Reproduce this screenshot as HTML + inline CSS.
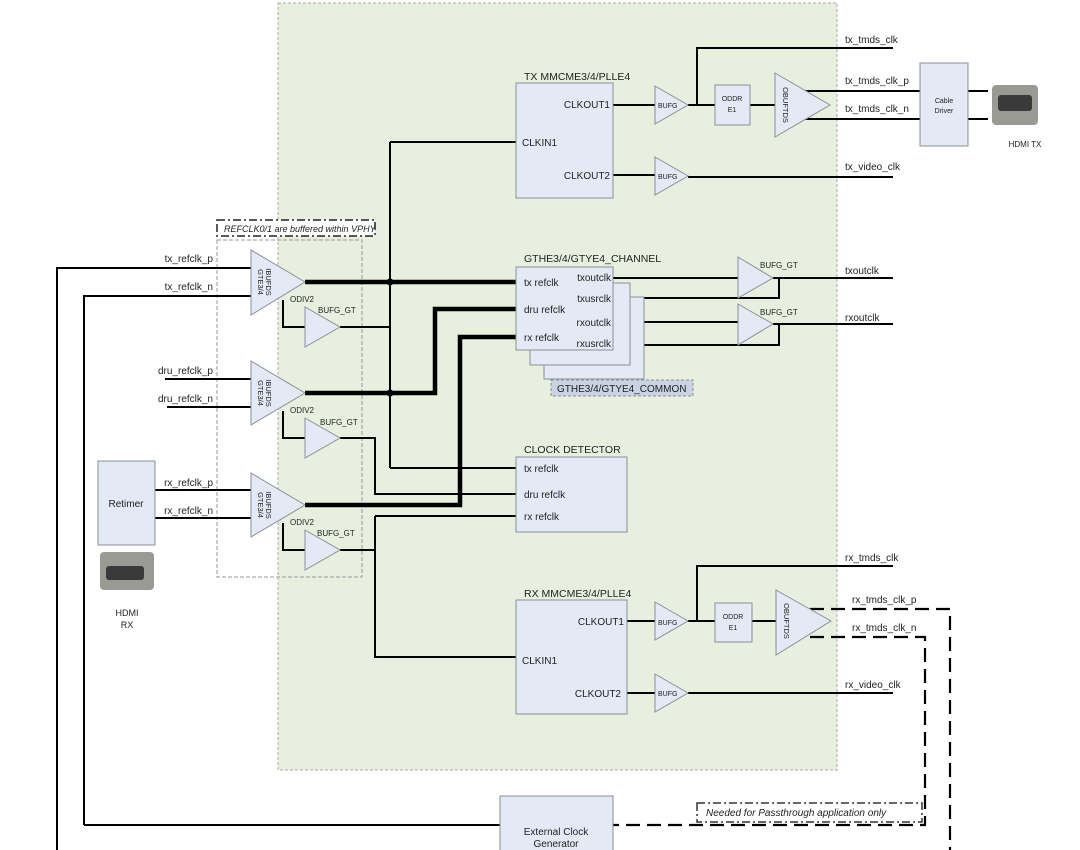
<!DOCTYPE html>
<html><head><meta charset="utf-8"><style>
body{margin:0;background:#fff}
svg{display:block}
text{font-family:"Liberation Sans",sans-serif;fill:#222}
</style></head><body>
<svg width="1080" height="850" viewBox="0 0 1080 850" xmlns="http://www.w3.org/2000/svg">
<rect x="278" y="3" width="559" height="767" fill="#e9efdf" stroke="#aaa" stroke-dasharray="3,2"/>
<rect x="217" y="240" width="145" height="337" fill="none" stroke="#999" stroke-dasharray="4,2"/>
<rect x="217" y="220" width="158" height="16" fill="#fff" stroke="#222" stroke-width="1.5" stroke-dasharray="8,3,2,3"/>
<text x="224" y="232" font-size="9" font-style="italic">REFCLK0/1 are buffered within VPHY</text>

<g stroke="#000" stroke-width="2" fill="none">
<polyline points="57,850 57,268 251,268"/>
<polyline points="84,825 84,296 251,296"/>
<line x1="84" y1="825" x2="500" y2="825"/>
<line x1="165" y1="379" x2="251" y2="379"/>
<line x1="167" y1="407" x2="251" y2="407"/>
<line x1="155" y1="490" x2="251" y2="490"/>
<line x1="155" y1="518" x2="251" y2="518"/>
<polyline points="283,300 283,327 305,327"/>
<polyline points="283,411 283,438 305,438"/>
<polyline points="283,523 283,550 305,550"/>
<polyline points="340,327 390,327"/>
<polyline points="390,142 516,142"/>
<line x1="390" y1="142" x2="390" y2="468"/>
<line x1="390" y1="468" x2="516" y2="468"/>
<polyline points="340,438 375,438 375,494 516,494"/>
<polyline points="340,550 375,550"/>
<polyline points="375,516 516,516"/>
<polyline points="375,516 375,657 516,657"/>
<line x1="613" y1="105" x2="655" y2="105"/>
<line x1="688" y1="105" x2="715" y2="105"/>
<polyline points="697,105 697,48 893,48"/>
<line x1="750" y1="105" x2="775" y2="105"/>
<line x1="805" y1="91" x2="920" y2="91"/>
<line x1="805" y1="119" x2="920" y2="119"/>
<line x1="968" y1="91" x2="988" y2="91"/>
<line x1="968" y1="119" x2="988" y2="119"/>
<line x1="613" y1="175" x2="655" y2="175"/>
<line x1="688" y1="177" x2="893" y2="177"/>
<line x1="613" y1="278" x2="738" y2="278"/>
<line x1="773" y1="278" x2="893" y2="278"/>
<polyline points="613,298 779,298 779,278"/>
<line x1="613" y1="322" x2="738" y2="322"/>
<line x1="773" y1="324" x2="893" y2="324"/>
<polyline points="613,345 779,345 779,324"/>
<line x1="627" y1="621" x2="655" y2="621"/>
<line x1="688" y1="621" x2="715" y2="621"/>
<polyline points="697,621 697,566 893,566"/>
<line x1="752" y1="621" x2="776" y2="621"/>
<line x1="627" y1="693" x2="655" y2="693"/>
<line x1="688" y1="693" x2="893" y2="693"/>
</g>
<g stroke="#000" stroke-width="4.5" fill="none">
<line x1="305" y1="282" x2="516" y2="282"/>
<polyline points="305,393 435,393 435,309 516,309"/>
<polyline points="305,505 460,505 460,337 516,337"/>
</g>
<circle cx="390" cy="282" r="3.5"/><circle cx="390" cy="393" r="3.5"/>
<g stroke="#000" stroke-width="2.2" fill="none" stroke-dasharray="14,7">
<polyline points="810,609 950,609 950,850"/>
<polyline points="810,637 925,637 925,825 613,825"/>
</g>
<rect x="697" y="803" width="225" height="19" fill="#fff" fill-opacity="0.6" stroke="#333" stroke-width="1.5" stroke-dasharray="8,3,2,3"/>
<text x="706" y="816" font-size="10" font-style="italic">Needed for Passthrough application only</text>

<g fill="#e3e9f5" stroke="#8a8f98" stroke-width="1">
<rect x="544" y="297" width="100" height="82"/>
<rect x="530" y="283" width="100" height="82"/>
<rect x="516" y="267" width="97" height="83"/>
<rect x="551" y="380" width="142" height="16" fill="#c9d3e1" stroke-dasharray="3,2"/>
<rect x="516" y="83" width="97" height="115"/>
<rect x="516" y="457" width="111" height="75"/>
<rect x="516" y="600" width="111" height="114"/>
<rect x="98" y="461" width="57" height="84"/>
<rect x="920" y="63" width="48" height="83"/>
<rect x="500" y="796" width="113" height="60"/>
<rect x="715" y="85" width="35" height="40"/>
<rect x="715" y="603" width="37" height="39"/>
<polygon points="251,250 305,282 251,315"/>
<polygon points="251,361 305,393 251,425"/>
<polygon points="251,473 305,505 251,537"/>
<polygon points="305,307 340,327 305,347"/>
<polygon points="305,418 340,438 305,458"/>
<polygon points="305,530 340,550 305,570"/>
<polygon points="738,257 773,278 738,298"/>
<polygon points="738,304 773,324 738,345"/>
<polygon points="655,86 688,105 655,124"/>
<polygon points="655,157 688,176 655,195"/>
<polygon points="655,602 688,621 655,640"/>
<polygon points="655,674 688,693 655,712"/>
<polygon points="775,73 830,105 775,137"/>
<polygon points="776,590 831,621 776,655"/>
</g>
<g>
<rect x="992" y="85" width="46" height="40" rx="4" fill="#9a9a94"/>
<rect x="998" y="95" width="34" height="16" rx="3" fill="#3a3a3a"/>
<rect x="100" y="552" width="54" height="38" rx="4" fill="#9a9a94"/>
<rect x="106" y="566" width="38" height="14" rx="3" fill="#3a3a3a"/>
</g>
<g font-size="10">
<text x="524" y="80" font-size="10.5">TX MMCME3/4/PLLE4</text>
<text x="610" y="108" text-anchor="end">CLKOUT1</text>
<text x="522" y="146">CLKIN1</text>
<text x="610" y="179" text-anchor="end">CLKOUT2</text>
<text x="524" y="262" font-size="10.5">GTHE3/4/GTYE4_CHANNEL</text>
<text x="524" y="286">tx refclk</text>
<text x="524" y="313">dru refclk</text>
<text x="524" y="341">rx refclk</text>
<text x="611" y="281" text-anchor="end">txoutclk</text>
<text x="611" y="302" text-anchor="end">txusrclk</text>
<text x="611" y="326" text-anchor="end">rxoutclk</text>
<text x="611" y="347" text-anchor="end">rxusrclk</text>
<text x="557" y="392">GTHE3/4/GTYE4_COMMON</text>
<text x="524" y="453" font-size="10.5">CLOCK DETECTOR</text>
<text x="524" y="472">tx refclk</text>
<text x="524" y="498">dru refclk</text>
<text x="524" y="520">rx refclk</text>
<text x="524" y="597" font-size="10.5">RX MMCME3/4/PLLE4</text>
<text x="624" y="625" text-anchor="end">CLKOUT1</text>
<text x="522" y="664">CLKIN1</text>
<text x="621" y="697" text-anchor="end">CLKOUT2</text>
<text x="845" y="43">tx_tmds_clk</text>
<text x="845" y="84">tx_tmds_clk_p</text>
<text x="845" y="112">tx_tmds_clk_n</text>
<text x="845" y="170">tx_video_clk</text>
<text x="845" y="274">txoutclk</text>
<text x="845" y="321">rxoutclk</text>
<text x="845" y="561">rx_tmds_clk</text>
<text x="852" y="603">rx_tmds_clk_p</text>
<text x="852" y="631">rx_tmds_clk_n</text>
<text x="845" y="688">rx_video_clk</text>
<text x="213" y="262" text-anchor="end">tx_refclk_p</text>
<text x="213" y="290" text-anchor="end">tx_refclk_n</text>
<text x="213" y="374" text-anchor="end">dru_refclk_p</text>
<text x="213" y="402" text-anchor="end">dru_refclk_n</text>
<text x="213" y="486" text-anchor="end">rx_refclk_p</text>
<text x="213" y="514" text-anchor="end">rx_refclk_n</text>
<text x="126" y="507" text-anchor="middle">Retimer</text>
<text x="127" y="616" text-anchor="middle" font-size="9">HDMI</text>
<text x="127" y="628" text-anchor="middle" font-size="9">RX</text>
<text x="1025" y="147" text-anchor="middle" font-size="8">HDMI TX</text>
<text x="556" y="835" text-anchor="middle">External Clock</text>
<text x="556" y="847" text-anchor="middle">Generator</text>
<text x="290" y="302" font-size="8">ODIV2</text>
<text x="290" y="413" font-size="8">ODIV2</text>
<text x="290" y="525" font-size="8">ODIV2</text>
<text x="318" y="313" font-size="8">BUFG_GT</text>
<text x="320" y="425" font-size="8">BUFG_GT</text>
<text x="317" y="536" font-size="8">BUFG_GT</text>
<text x="760" y="268" font-size="8">BUFG_GT</text>
<text x="760" y="315" font-size="8">BUFG_GT</text>
<text x="658" y="108" font-size="7">BUFG</text>
<text x="658" y="179" font-size="7">BUFG</text>
<text x="658" y="625" font-size="7">BUFG</text>
<text x="658" y="696" font-size="7">BUFG</text>
<text x="732" y="101" font-size="7" text-anchor="middle">ODDR</text>
<text x="732" y="112" font-size="7" text-anchor="middle">E1</text>
<text x="733" y="619" font-size="7" text-anchor="middle">ODDR</text>
<text x="733" y="630" font-size="7" text-anchor="middle">E1</text>
<text x="944" y="103" font-size="7" text-anchor="middle">Cable</text>
<text x="944" y="113" font-size="7" text-anchor="middle">Driver</text>
</g>
<g font-size="7.5">
<text transform="translate(266,282) rotate(90)" text-anchor="middle">IBUFDS</text>
<text transform="translate(258,282) rotate(90)" text-anchor="middle">GTE3/4</text>
<text transform="translate(266,393) rotate(90)" text-anchor="middle">IBUFDS</text>
<text transform="translate(258,393) rotate(90)" text-anchor="middle">GTE3/4</text>
<text transform="translate(266,505) rotate(90)" text-anchor="middle">IBUFDS</text>
<text transform="translate(258,505) rotate(90)" text-anchor="middle">GTE3/4</text>
<text transform="translate(783,105) rotate(90)" text-anchor="middle">OBUFTDS</text>
<text transform="translate(784,621) rotate(90)" text-anchor="middle">OBUFTDS</text>
</g>
</svg>
</body></html>
